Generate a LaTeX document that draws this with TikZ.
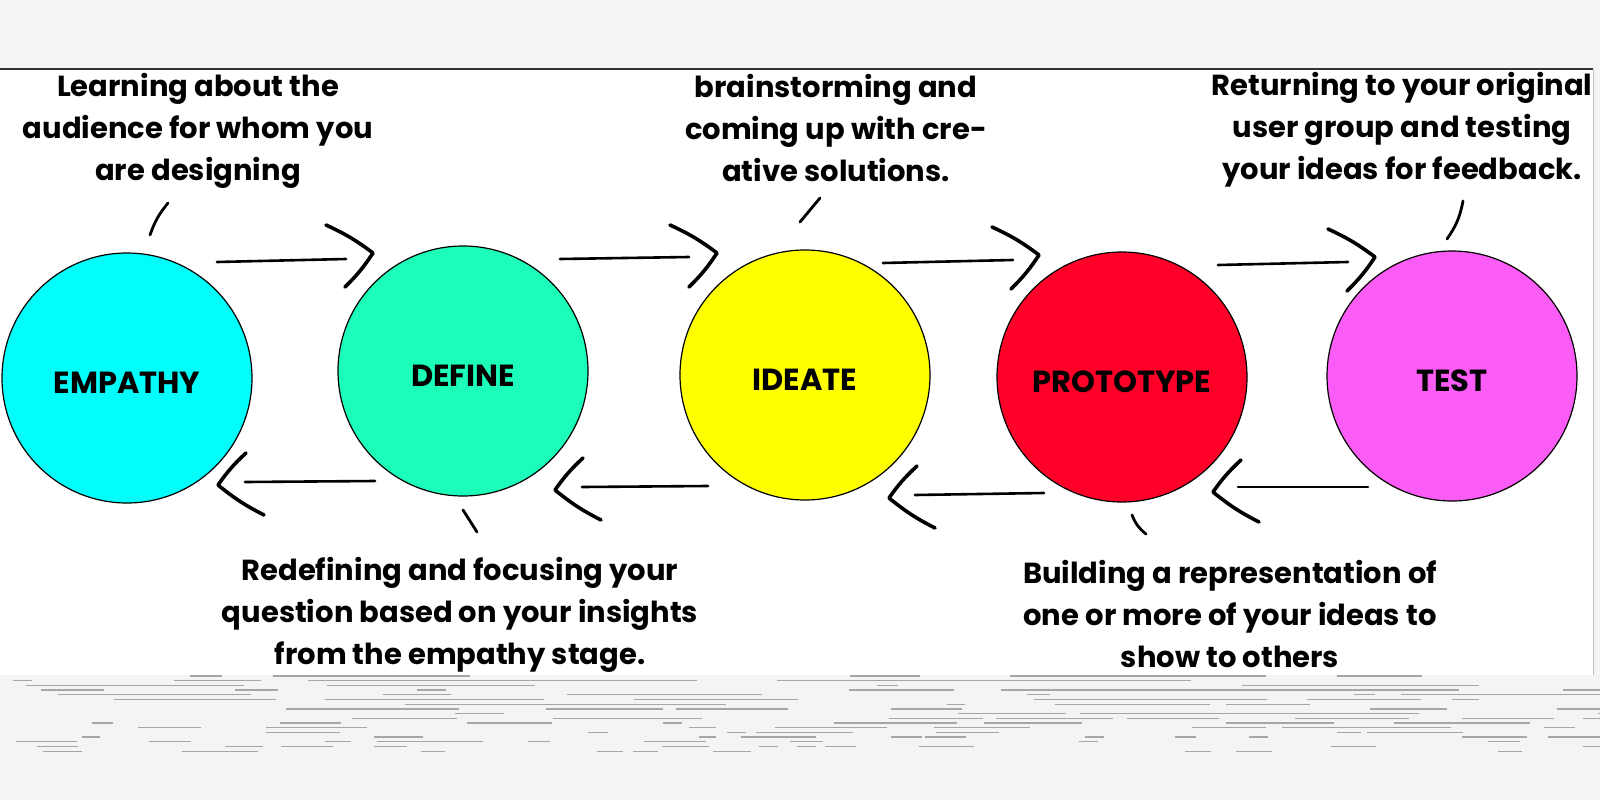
\documentclass[tikz,border=0pt]{standalone}
\usepackage{fontspec}
\setmainfont{Poppins}
\usetikzlibrary{calc}

\definecolor{empathycol}{HTML}{03FDFB}
\definecolor{definecol}{HTML}{1BFDB8}
\definecolor{ideatecol}{HTML}{FFFF00}
\definecolor{protocol}{HTML}{FF0029}
\definecolor{testcol}{HTML}{FA5CF5}
\definecolor{paper}{HTML}{F4F4F4}

\tikzset{
  stage/.style={circle, draw=black, line width=1.2pt, minimum size=250pt, inner sep=0pt,
    font=\fontsize{30.5}{30}\selectfont\bfseries, text height=30pt, text depth=0pt},
  note/.style={align=center, font=\fontsize{29}{42}\selectfont\bfseries},
  stroke/.style={line width=2.6pt, line cap=round},
  head/.style={line width=3.6pt, line cap=round, line join=round},
  tick/.style={line width=2.8pt, line cap=round},
  noise/.style={gray!70, line width=1.3pt}
}

\begin{document}
\begin{tikzpicture}[x=1pt, y=-1pt]
\useasboundingbox (0,0) rectangle (1600,800);
\fill[paper] (0,0) rectangle (1600,800);
\fill[white] (0,69) rectangle (1593,675);
\draw[black!80, line width=1.2pt] (0,69) -- (1593,69);
\draw[gray!50, line width=0.8pt] (1593,69) -- (1593,675);

% scan lines below the sheet
\pgfmathsetseed{17}
\foreach \r in {0,...,16}{
  \foreach \k in {1,...,11}{
    \pgfmathsetmacro\xa{rnd*1600}
    \pgfmathsetmacro\len{15+rnd*200*(1-\r/19)}
    \draw[noise] (\xa,676+\r*4.7) -- ++(\len,0);
  }
}

% the five stages
\node[stage, fill=empathycol] (empathy) at (127,378) {EMPATHY};
\node[stage, fill=definecol] (define) at (463,371) {DEFINE};
\node[stage, fill=ideatecol] (ideate) at (805,375) {IDEATE};
\node[stage, fill=protocol] (prototype) at (1122,377) {PROTOTYPE};
\node[stage, fill=testcol] (test) at (1452,376) {TEST};

% notes
\node[note] (learn) at (198,131) {Learning about the\\audience for whom you\\are designing};
\node[note] (brain) at (836,128) {brainstorming and\\coming up with cre-\\ative solutions.};
\node[note] (return) at (1402,130) {Returning to your original\\user group and testing\\your ideas for feedback.};
\node[note] (redefine) at (460,615) {Redefining and focusing your\\question based on your insights\\from the empathy stage.};
\node[note] (build) at (1230,614) {Building a representation of\\one or more of your ideas to\\show to others};

% forward arrows
\draw[stroke] ($(empathy)+(90,-116)$) -- ($(define)+(-117,-112)$);
\draw[head] ($(define)+(-90,-118)$) ++(-47,-28) to[bend left=6] ++(47,28) to[bend left=6] ++(-28,34);
\draw[stroke] ($(define)+(97,-112)$) -- ($(ideate)+(-116,-118)$);
\draw[head] ($(ideate)+(-88,-122)$) ++(-47,-28) to[bend left=6] ++(47,28) to[bend left=6] ++(-28,34);
\draw[stroke] ($(ideate)+(78,-112)$) -- ($(prototype)+(-109,-117)$);
\draw[head] ($(prototype)+(-83,-122)$) ++(-47,-28) to[bend left=6] ++(47,28) to[bend left=6] ++(-28,34);
\draw[stroke] ($(prototype)+(96,-112)$) -- ($(test)+(-104,-114)$);
\draw[head] ($(test)+(-77,-119)$) ++(-47,-28) to[bend left=6] ++(47,28) to[bend left=6] ++(-28,34);

% backward arrows
\draw[stroke] ($(define)+(-88,110)$) -- ($(empathy)+(118,104)$);
\draw[head] ($(empathy)+(91,107)$) ++(28,-32) to[bend right=6] ++(-28,32) to[bend right=6] ++(46,30);
\draw[stroke] ($(ideate)+(-97,111)$) -- ($(define)+(119,116)$);
\draw[head] ($(define)+(92,119)$) ++(28,-32) to[bend right=6] ++(-28,32) to[bend right=6] ++(46,30);
\draw[stroke] ($(prototype)+(-78,116)$) -- ($(ideate)+(110,120)$);
\draw[head] ($(ideate)+(84,123)$) ++(28,-32) to[bend right=6] ++(-28,32) to[bend right=6] ++(46,30);
\draw[stroke] ($(test)+(-84,111)$) -- ($(prototype)+(116,110)$);
\draw[head] ($(prototype)+(91,115)$) ++(28,-32) to[bend right=6] ++(-28,32) to[bend right=6] ++(46,30);

% ticks from the notes
\draw[tick] ($(empathy)+(41,-175)$) to[bend right=10] ($(empathy)+(23,-143)$);
\draw[tick] ($(ideate)+(15,-177)$) -- ($(ideate)+(-5,-153)$);
\draw[tick] ($(test)+(11,-175)$) to[bend left=12] ($(test)+(-5,-137)$);
\draw[tick] ($(define)+(0,139)$) -- ($(define)+(14,161)$);
\draw[tick] ($(prototype)+(10,138)$) to[bend right=15] ($(prototype)+(24,157)$);
\end{tikzpicture}
\end{document}
